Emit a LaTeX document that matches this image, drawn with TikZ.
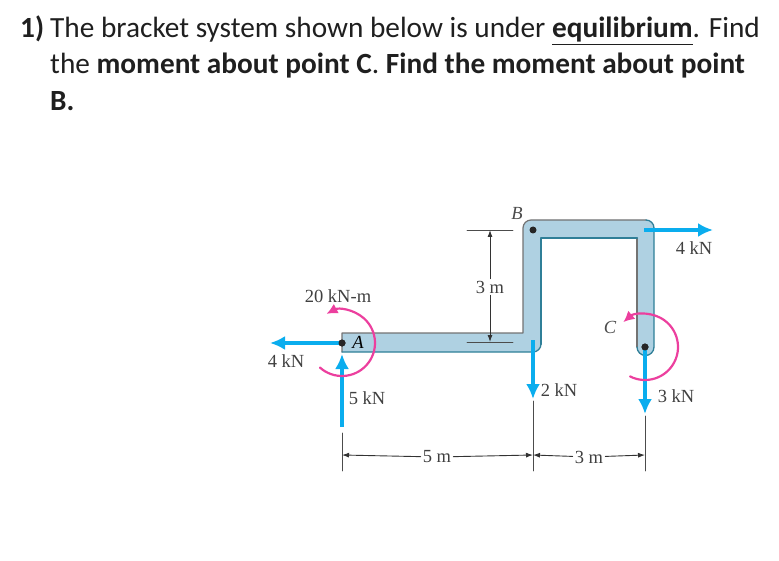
\documentclass[tikz,border=0pt]{standalone}
\usepackage{fontspec}
\setmainfont{Liberation Serif}
\newfontfamily\titlefont{Carlito}
\usetikzlibrary{arrows,arrows.meta}
\definecolor{barblue}{HTML}{AFD1E2}
\definecolor{baredge}{HTML}{2F7F98}
\definecolor{forceblue}{HTML}{0AADEE}
\definecolor{momentpink}{HTML}{EC3F9E}
\tikzset{
  titletext/.style={anchor=base west,inner sep=0pt,text=black!88,font=\titlefont\fontsize{29.3}{34}\selectfont},
  forcetext/.style={inner sep=1pt,text=black!75,font=\fontsize{18.5}{20}\selectfont},
  pointtext/.style={inner sep=1pt,font=\itshape\fontsize{18.5}{20}\selectfont},
  force/.style={-{Latex[length=15pt,width=14pt]},forceblue,line width=4pt,line cap=butt},
  moment/.style={draw=momentpink,-{Latex[length=11pt,width=11pt,fill=momentpink]},line width=2.2pt},
  dimline/.style={black!70,line width=0.9pt},
  dimarrow/.style={-{Latex[length=7pt,width=5pt]},black!80,line width=0.9pt},
  pindot/.style={circle,fill=black!85,inner sep=0pt,minimum size=7pt}
}
\begin{document}
\begin{tikzpicture}[line cap=round,line join=round,x=1pt,y=-1pt]
        \useasboundingbox (0,0) rectangle (779,561);
        % question text
        \node[titletext] (num) at (20,38) {\textbf{1)}};
        \node[titletext] (lineone) at (50,38) {The bracket system shown below is under \textbf{\underline{equilibrium}}. Find};
        \node[titletext] (linetwo) at (50,74) {the \textbf{moment about point C}. \textbf{Find the moment about point}};
        \node[titletext] (linethree) at (50,111) {\textbf{B.}};
        % bracket
        \fill [barblue] (342,333) -- (523,333) -- (523,228) arc (180:270:8) -- (646,220) arc (270:360:8) -- (654,347) arc (0:180:8.5) -- (637,238) -- (541,238) -- (541,344) arc (0:90:8) -- (342,352) -- cycle;
        \draw [black!55,line width=1.2pt] (342,352) -- (342,333) -- (523,333) -- (523,228) arc (180:270:8) -- (646,220);
        \draw [black!55,line width=1.2pt] (637,347) -- (637,238);
        \draw [baredge,line width=1.3pt] (646,220) arc (270:360:8) -- (654,347) arc (0:180:8.5);
        \draw [baredge,line width=2.2pt] (637,238) -- (541,238) -- (541,344);
        \draw [baredge,line width=1.3pt] (541,344) arc (0:90:8) -- (342,352);
        % points
        \node[pindot] (A) at (342,343) {};
        \node[pindot] (B) at (533,230) {};
        \node[pindot] (C) at (645,347) {};
        \node[pointtext] (Alabel) at (358,342) {A};
        \node[pointtext,text=black!70] (Blabel) at (517,213) {B};
        \node[pointtext,text=black!70] (Clabel) at (610,327) {C};
        % forces
        \coordinate (fourleft) at (270,343);
        \coordinate (fiveend) at (342,427);
        \coordinate (fivetip) at (342,354);
        \coordinate (twostart) at (533,340);
        \coordinate (twotip) at (533,399);
        \coordinate (threetip) at (645,414);
        \coordinate (fourstart) at (644,230);
        \coordinate (fourright) at (713,230);
        \draw [force] (A.center) -- (fourleft);
        \draw [force] (fiveend) -- (fivetip);
        \draw [force] (twostart) -- (twotip);
        \draw [force] (C.center) -- (threetip);
        \draw [force] (fourstart) -- (fourright);
        \node[pindot] (Atop) at (A) {};
        \node[pindot] (Ctop) at (C) {};
        \node[forcetext] (leftfour) at (286,361) {4 kN};
        \node[forcetext] (five) at (367,398) {5 kN};
        \node[forcetext] (two) at (559,390) {2 kN};
        \node[forcetext] (three) at (676,396) {3 kN};
        \node[forcetext] (rightfour) at (694,248) {4 kN};
        \node[forcetext] (couple) at (338,296) {20 kN-m};
        % moments
        \draw [moment] (A.center) ++(132:33) arc (132:-118:33);
        \draw [moment] (C.center) ++(117:33) arc (117:-131:33);
        % dimensions
        \coordinate (exta) at (342,433);
        \coordinate (extab) at (342,471);
        \coordinate (extb) at (533,401);
        \coordinate (extbb) at (533,471);
        \coordinate (extc) at (645,416);
        \coordinate (extcb) at (645,471);
        \coordinate (exttopl) at (467,230);
        \coordinate (exttopr) at (513,230);
        \coordinate (extlowl) at (467,342);
        \coordinate (extlowr) at (513,342);
        \draw [dimline] (exta) -- (extab);
        \draw [dimline] (extb) -- (extbb);
        \draw [dimline] (extc) -- (extcb);
        \draw [dimline] (exttopl) -- (exttopr);
        \draw [dimline] (extlowl) -- (extlowr);
        \node[forcetext,inner sep=2pt] (fivem) at (437,457) {5 m};
        \node[forcetext,inner sep=2pt] (threem) at (589,457) {3 m};
        \node[forcetext,inner sep=2pt] (height) at (490,287) {3 m};
        \draw [dimarrow] (fivem) -- (342,455);
        \draw [dimarrow] (fivem) -- (533,455);
        \draw [dimarrow] (threem) -- (533,455);
        \draw [dimarrow] (threem) -- (645,455);
        \draw [dimarrow] (height) -- (490,230);
        \draw [dimarrow] (height) -- (490,342);
\end{tikzpicture}
\end{document}
